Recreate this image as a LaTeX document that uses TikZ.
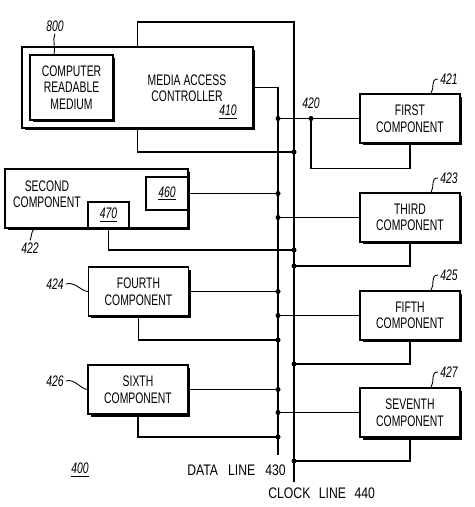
\documentclass[tikz,border=0pt]{standalone}
\usepackage{fontspec}
\setmainfont[FakeStretch=0.68]{Liberation Sans}
\usetikzlibrary{shadows}

\begin{document}
\begin{tikzpicture}[
    x=0.02cm, y=-0.02cm,
    line width=0.6pt,
    font=\fontsize{8.7}{9.4}\selectfont,
    comp/.style={draw, fill=white, align=center, inner sep=0pt, minimum width=2cm, minimum height=0.98cm,
        drop shadow={shadow xshift=0.05cm, shadow yshift=-0.05cm, opacity=1, fill=black}},
    plain/.style={draw, fill=white, inner sep=0pt},
    num/.style={font=\fontsize{8.7}{9.4}\selectfont\itshape, inner sep=1pt},
    busname/.style={font=\fontsize{8.7}{9.4}\selectfont\addfontfeatures{FakeStretch=0.8}, inner sep=1pt},
    dot/.style={circle, fill, inner sep=0pt, minimum size=0.1cm},
    lead/.style={line width=0.5pt}
]
    \useasboundingbox (0,0) rectangle (474,507);

    % Media access controller with its medium
    \node[comp, minimum width=4.62cm, minimum height=1.62cm] (mac) at (137.5,87.5) {};
    \node[comp, minimum width=1.66cm, minimum height=1.3cm] (crm) at (71.5,87.5) {COMPUTER\\READABLE\\MEDIUM};
    \node[align=center] (mactext) at (187,88) {MEDIA ACCESS\\CONTROLLER};
    \node[num] (n410) at (228,112) {\underline{410}};

    % Second component
    \node[comp, minimum width=3.66cm, minimum height=1.18cm] (c2) at (96.5,198.5) {};
    \node[align=center] (c2text) at (47,194) {SECOND\\COMPONENT};
    \node[plain, minimum width=0.84cm, minimum height=0.66cm] (b460) at (167,193.5) {\itshape\underline{460}};
    \node[plain, minimum width=0.82cm, minimum height=0.52cm] (b470) at (108.5,215) {\itshape\underline{470}};

    % Components on the right
    \node[comp] (c1) at (410,118.5) {FIRST\\COMPONENT};
    \node[comp] (c3) at (410,217.5) {THIRD\\COMPONENT};
    \node[comp] (c5) at (410,315.5) {FIFTH\\COMPONENT};
    \node[comp] (c7) at (410,412.5) {SEVENTH\\COMPONENT};

    % Components on the left
    \node[comp] (c4) at (138.5,291.5) {FOURTH\\COMPONENT};
    \node[comp] (c6) at (138,389.5) {SIXTH\\COMPONENT};

    % Reference numbers
    \node[num] (l800) at (55,26) {800};
    \node[num] (l420) at (311,103) {420};
    \node[num] (l421) at (449,79) {421};
    \node[num] (l423) at (449,178) {423};
    \node[num] (l425) at (449,275) {425};
    \node[num] (l427) at (449,372) {427};
    \node[num] (l422) at (30,248) {422};
    \node[num] (l424) at (55,284) {424};
    \node[num] (l426) at (55,381) {426};
    \node[num] (l400) at (80,470) {\underline{400}};
    \node[busname, anchor=east] (dlabel) at (288,470) {DATA\hspace{0.2cm}LINE\hspace{0.2cm}430};
    \node[busname, anchor=west] (clabel) at (266,493) {CLOCK\hspace{0.17cm}LINE\hspace{0.17cm}440};

    % Leaders
    \draw[lead] (l800.south) .. controls +(-3,6) and +(2,-6) .. ([xshift=-0.35cm]crm.north);
    \draw[lead] (l422.north) .. controls +(2,-5) and +(-3,4) .. ([xshift=-1.25cm]c2.south);
    \foreach \l/\c in {l421/c1,l423/c3,l425/c5,l427/c7}
        \draw[lead] (\l.west) .. controls +(-8,0) and +(4,-6) .. ([xshift=0.42cm]\c.north);
    \foreach \l/\c in {l424/c4,l426/c6}
        \draw[lead] (\l.east) .. controls +(8,-3) and +(-6,0) .. (\c.west);

    % Bus lines and junctions
    \coordinate (dtop) at (278,87);
    \coordinate (dbot) at (278,455);
    \coordinate (ctop) at (294,22);
    \coordinate (cbot) at (294,482);
    \coordinate (j420) at (311,118.5);
    \foreach \n/\y in {k0/152,k2/250,k3/266,k5/364,k7/461}
        \coordinate (\n) at (294,\y);
    \foreach \n/\y in {d1/118.5,d2/193.5,d3/217.5,d4/291.5,d4b/340,d5/315.5,d6/389.5,d6b/437,d7/412.5}
        \coordinate (\n) at (278,\y);

    % Data line 430 and clock line 440
    \draw (mac.east) -| (dbot);
    \draw (mac.north) |- (ctop) -- (cbot);
    \draw (mac.south) |- (k0);

    % Connections to the lines
    \draw (d1) -- (c1.west);
    \draw (c1.south) -- ++(0,25) -| (j420);
    \draw (b460.east) -- (d2);
    \draw (b470.south) |- (k2);
    \draw (d3) -- (c3.west);
    \draw (c3.south) |- (k3);
    \draw (c4.east) -- (d4);
    \draw (c4.south) |- (d4b);
    \draw (d5) -- (c5.west);
    \draw (c5.south) |- (k5);
    \draw (c6.east) -- (d6);
    \draw (c6.south) |- (d6b);
    \draw (d7) -- (c7.west);
    \draw (c7.south) |- (k7);

    \foreach \p in {j420,k0,k2,k3,k5,k7,d1,d2,d3,d4,d4b,d5,d6,d6b,d7}
        \node[dot] at (\p) {};

\end{tikzpicture}
\end{document}
